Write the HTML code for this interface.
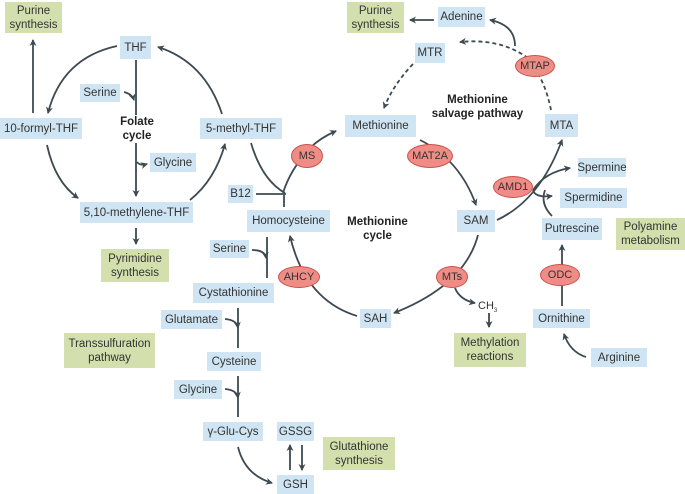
<!DOCTYPE html>
<html><head><meta charset="utf-8"><style>
body{margin:0;width:685px;height:494px;background:#fff;position:relative;overflow:hidden;font-family:"Liberation Sans",sans-serif;color:#333;}
.b{position:absolute;background:#cfe5f3;font-size:11.5px;display:flex;align-items:center;justify-content:center;white-space:nowrap;}
.g{position:absolute;background:#d3e0ad;font-size:11.5px;display:flex;align-items:center;justify-content:center;text-align:center;line-height:14px;}
.e{position:absolute;background:#f08c86;border:1px solid #c9524c;border-radius:50%;font-size:11px;display:flex;align-items:center;justify-content:center;box-sizing:border-box;}
.t{position:absolute;font-weight:bold;font-size:11.5px;text-align:center;line-height:14px;color:#222;}
svg{position:absolute;left:0;top:0;}
</style></head><body>
<svg width="685" height="494" viewBox="0 0 685 494">
<defs><marker id="a" markerWidth="8" markerHeight="8" refX="6" refY="4" orient="auto" markerUnits="userSpaceOnUse"><path d="M0,0.5 L7,4 L0,7.5 L2,4 Z" fill="#3d4a52"/></marker></defs>
<g fill="none" stroke="#3d4a52" stroke-width="1.8" marker-end="url(#a)">
<path d="M33,113 V40"/>
<path d="M117,46 Q62,58 48,113"/>
<path d="M47,145 Q55,182 78,198"/>
<path d="M190,200 Q215,180 225,144"/>
<path d="M222,114 Q205,62 158,47"/>
<path d="M136,60 V196"/>
<path d="M124,92 Q132,94 134,100"/>
<path d="M137,162 Q140,166 147,164"/>
<path d="M136,228 V244"/>
<path d="M251,143 Q262,180 285,193 M283,193 Q290,170 310,148 Q320,138 336,131"/>
<path d="M256,194 H286" marker-end="none"/>
<path d="M284,207 V195" marker-end="none"/>
<path d="M420,140 Q460,160 476,205"/>
<path d="M497,220 Q540,200 562,140"/>
<path d="M533,190 Q545,172 570,168"/>
<path d="M533,190 Q535,198 552,196"/>
<path d="M552,216 Q540,204 545,190" marker-end="none"/>
<path d="M478,235 Q465,285 394,313"/>
<path d="M357,316 Q305,300 290,236"/>
<path d="M455,288 Q460,300 475,303"/>
<path d="M489,313 V327"/>
<path d="M562,306 V245"/>
<path d="M586,357 Q570,352 564,334"/>
<path d="M267,237 V278 M252,250 Q265,250 266,258" />
<path d="M238,308 V348 M225,319 Q237,320 238,328"/>
<path d="M238,376 V417 M225,389 Q237,390 238,398"/>
<path d="M238,447 Q245,475 272,483"/>
<path d="M290,470 V445"/>
<path d="M302,445 V470"/>
<path d="M434,20 H410"/>
<path d="M515,46 Q515,25 490,20"/>
</g>
<g fill="none" stroke="#3d4a52" stroke-width="1.8" stroke-dasharray="4,3">
<path d="M551,110 Q545,80 530,62" />
<path d="M528,58 Q500,38 460,42" marker-end="url(#a)"/>
<path d="M413,64 Q393,85 384,108" marker-end="url(#a)"/>
</g>
</svg>
<div class="g" style="left:5px;top:2px;width:57px;height:31px">Purine<br>synthesis</div>
<div class="b" style="left:120px;top:36px;width:31px;height:23px">THF</div>
<div class="b" style="left:80px;top:84px;width:40px;height:18px">Serine</div>
<div class="b" style="left:0;top:118px;width:82px;height:21px">10-formyl-THF</div>
<div class="t" style="left:114px;top:115px;width:46px;background:#fff">Folate<br>cycle</div>
<div class="b" style="left:200px;top:118px;width:82px;height:21px">5-methyl-THF</div>
<div class="b" style="left:150px;top:153px;width:46px;height:19px">Glycine</div>
<div class="b" style="left:80px;top:202px;width:113px;height:21px">5,10-methylene-THF</div>
<div class="g" style="left:101px;top:249px;width:68px;height:33px">Pyrimidine<br>synthesis</div>
<div class="b" style="left:228px;top:185px;width:25px;height:18px">B12</div>
<div class="b" style="left:247px;top:210px;width:83px;height:22px">Homocysteine</div>
<div class="e" style="left:291px;top:144px;width:32px;height:24px">MS</div>
<div class="b" style="left:345px;top:115px;width:71px;height:22px">Methionine</div>
<div class="e" style="left:407px;top:144px;width:46px;height:24px">MAT2A</div>
<div class="t" style="left:430px;top:93px;width:95px">Methionine<br>salvage pathway</div>
<div class="b" style="left:415px;top:43px;width:30px;height:20px">MTR</div>
<div class="g" style="left:347px;top:2px;width:57px;height:31px">Purine<br>synthesis</div>
<div class="b" style="left:438px;top:7px;width:47px;height:20px">Adenine</div>
<div class="e" style="left:515px;top:55px;width:40px;height:22px">MTAP</div>
<div class="b" style="left:545px;top:114px;width:33px;height:23px">MTA</div>
<div class="e" style="left:493px;top:176px;width:40px;height:22px">AMD1</div>
<div class="b" style="left:578px;top:158px;width:48px;height:19px">Spermine</div>
<div class="b" style="left:560px;top:188px;width:67px;height:20px">Spermidine</div>
<div class="b" style="left:457px;top:210px;width:38px;height:22px">SAM</div>
<div class="t" style="left:345px;top:215px;width:65px">Methionine<br>cycle</div>
<div class="b" style="left:542px;top:218px;width:60px;height:22px">Putrescine</div>
<div class="g" style="left:616px;top:218px;width:69px;height:32px">Polyamine<br>metabolism</div>
<div class="b" style="left:210px;top:240px;width:39px;height:18px">Serine</div>
<div class="e" style="left:278px;top:266px;width:42px;height:22px">AHCY</div>
<div class="b" style="left:193px;top:283px;width:81px;height:20px">Cystathionine</div>
<div class="b" style="left:161px;top:310px;width:61px;height:19px">Glutamate</div>
<div class="g" style="left:64px;top:333px;width:91px;height:35px">Transsulfuration<br>pathway</div>
<div class="b" style="left:207px;top:352px;width:54px;height:19px">Cysteine</div>
<div class="b" style="left:174px;top:380px;width:48px;height:19px">Glycine</div>
<div class="b" style="left:203px;top:422px;width:60px;height:19px">γ-Glu-Cys</div>
<div class="b" style="left:277px;top:422px;width:37px;height:19px">GSSG</div>
<div class="g" style="left:323px;top:437px;width:72px;height:33px">Glutathione<br>synthesis</div>
<div class="b" style="left:277px;top:475px;width:37px;height:19px">GSH</div>
<div class="b" style="left:360px;top:309px;width:31px;height:19px">SAH</div>
<div class="e" style="left:436px;top:266px;width:32px;height:22px">MTs</div>
<div style="position:absolute;left:478px;top:300px;font-size:11px">CH<sub style="font-size:6px">3</sub></div>
<div class="g" style="left:454px;top:333px;width:72px;height:34px">Methylation<br>reactions</div>
<div class="e" style="left:540px;top:264px;width:40px;height:22px">ODC</div>
<div class="b" style="left:533px;top:309px;width:57px;height:19px">Ornithine</div>
<div class="b" style="left:591px;top:348px;width:56px;height:19px">Arginine</div>
</body></html>
